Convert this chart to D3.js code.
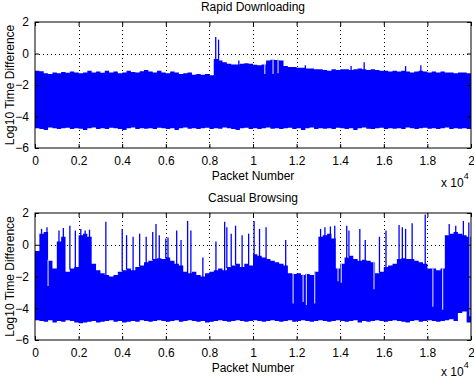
<!DOCTYPE html>
<html>
<head>
<meta charset="utf-8">
<script src="https://cdn.jsdelivr.net/npm/d3@7"></script>
<style>
  body { margin: 0; background: #fff; }
  text { font-family: "Liberation Sans", Arial, sans-serif; fill: #000; }
</style>
</head>
<body>
<svg width="474" height="380"></svg>
<script>
// packets are binned, 200 per bin, 100 bins; values are log10 time difference
var binSize = 200;
var xTicks = [0, 2000, 4000, 6000, 8000, 10000, 12000, 14000, 16000, 18000, 20000];
var yTicks = [-6, -4, -2, 0, 2];

// Rapid Downloading
var rapidHigh = [
  -1.1,-1.12,-1.25,-1.3,-1.2,-1.25,-1.18,-1.22,-1.15,-1.2,
  -1.25,-1.2,-1.1,-1.2,-1.15,-1.22,-1.1,-1.2,-1.15,-1.25,
  -1.2,-1.1,-1.18,-1.2,-1.12,-1.05,-1.15,-1.2,-1.1,-1.2,
  -1.25,-1.15,-1.2,-1.3,-1.25,-1.2,-1.35,-1.3,-1.35,-1.3,
  -1.38,-0.35,-0.45,-0.55,-0.65,-0.7,-0.7,-0.65,-0.62,-0.65,
  -0.72,-0.75,-0.7,-0.45,-0.4,-0.42,-0.45,-0.8,-0.85,-0.85,
  -0.9,-0.9,-0.95,-0.95,-1.0,-1.0,-1.05,-1.1,-1.0,-1.05,
  -1.0,-1.0,-1.05,-1.0,-0.95,-1.0,-1.05,-1.0,-1.05,-1.1,
  -1.1,-1.15,-1.1,-1.15,-1.1,-1.15,-1.2,-1.15,-1.1,-1.15,
  -1.2,-1.15,-1.2,-1.15,-1.2,-1.2,-1.25,-1.2,-1.2,-1.25
];
var rapidLow = [
  -4.75,-4.8,-4.85,-4.7,-4.75,-4.8,-4.75,-4.72,-4.8,-4.75,
  -4.78,-4.85,-4.75,-4.7,-4.8,-4.75,-4.8,-4.72,-4.75,-4.8,
  -4.85,-4.75,-4.7,-4.8,-4.75,-4.78,-4.75,-4.8,-4.72,-4.75,
  -4.8,-4.75,-4.85,-4.75,-4.7,-4.78,-4.75,-4.8,-4.75,-4.72,
  -4.8,-4.75,-4.78,-4.7,-4.75,-4.8,-4.85,-4.75,-4.72,-4.8,
  -4.75,-4.8,-4.75,-4.7,-4.78,-4.75,-4.8,-4.75,-4.72,-4.8,
  -4.75,-4.85,-4.75,-4.7,-4.8,-4.75,-4.78,-4.75,-4.8,-4.72,
  -4.75,-4.8,-4.75,-4.85,-4.75,-4.7,-4.78,-4.8,-4.75,-4.72,
  -4.8,-4.75,-4.78,-4.75,-4.8,-4.7,-4.75,-4.8,-4.75,-4.72,
  -4.78,-4.75,-4.8,-4.75,-4.7,-4.8,-4.75,-4.78,-4.75,-4.8
];
var rapidSpikes = [
  [8290, 1.05], [8420, 0.88], [9350, -0.45], [15100, -0.55],
  [17000, -0.8], [17700, -0.75], [12400, -0.75], [14500, -0.8]
];
var rapidDips = [[10540, -1.3], [10920, -1.3], [11150, -1.25]];

// Casual Browsing
var casualHigh = [
  -0.4,0.7,0.8,-1.0,-1.5,0.2,0.5,-1.7,-1.5,-1.4,
  0.6,0.7,0.5,-1.2,-1.6,-1.8,-1.9,-2.0,-1.9,-1.7,
  -1.6,-1.5,-1.6,-1.4,-1.3,-1.1,-1.0,-0.9,-0.85,-0.9,
  -0.8,-1.0,-1.2,-1.3,-1.7,-1.8,-1.7,-1.9,-2.0,-1.8,
  -1.7,-1.6,-1.5,-1.6,-1.4,-1.3,-1.2,-1.4,-1.2,-1.3,
  -0.6,-0.7,-0.8,-0.9,-1.0,-1.1,-1.2,-1.3,-1.8,-1.85,
  -1.8,-1.9,-1.85,-1.9,-1.7,0.5,0.6,0.7,0.4,-1.5,
  -1.2,-0.8,-0.7,-0.9,-1.0,-0.95,-1.0,-1.1,-1.8,-1.7,
  -1.4,-1.3,-1.2,-0.9,-0.85,-0.9,-0.9,-1.0,-1.1,-1.2,
  -1.5,-1.5,-1.6,-1.5,0.6,0.7,0.8,0.7,0.6,0.5
];
var casualLow = [
  -4.75,-4.8,-4.85,-4.75,-4.9,-4.8,-4.85,-4.75,-4.8,-4.9,
  -4.95,-4.9,-4.85,-4.8,-4.9,-4.85,-4.8,-4.75,-4.85,-4.8,
  -4.9,-4.85,-4.8,-4.85,-4.75,-4.8,-4.85,-4.8,-4.75,-4.8,
  -4.85,-4.8,-4.75,-4.85,-4.8,-4.75,-4.8,-4.85,-4.8,-4.9,
  -4.85,-4.8,-4.75,-4.8,-4.85,-4.8,-4.75,-4.8,-4.85,-4.8,
  -4.75,-4.8,-4.85,-4.8,-4.75,-4.8,-4.85,-4.8,-4.75,-4.85,
  -4.8,-4.75,-4.8,-4.85,-4.8,-4.75,-4.8,-4.85,-4.8,-4.75,
  -4.8,-4.85,-4.8,-4.75,-4.9,-4.8,-4.85,-4.8,-4.75,-4.8,
  -4.85,-4.8,-4.75,-4.8,-4.85,-4.9,-4.8,-4.75,-4.85,-4.8,
  -4.75,-4.8,-4.85,-4.8,-4.75,-4.7,-4.8,-4.3,-4.2,-4.9
];
var casualSpikes = [
  [300, 1.0], [550, 1.1], [1100, 0.9], [1300, 1.05], [1600, 1.2], [1850, 0.9],
  [2100, 1.0], [2300, 0.9], [2500, 0.95], [3250, 1.45], [4000, 1.0], [4200, 0.6],
  [4500, 0.5], [4800, 0.7], [5100, 0.5], [5400, 0.8], [5550, 1.3], [5700, 0.6],
  [6000, 0.4], [6100, 0.45], [6500, 0.9], [6700, 0.3], [7000, 1.5], [7150, 0.9],
  [7700, -0.8], [8300, 0.2], [8700, 1.45], [8800, 1.1], [9000, 0.7], [9200, 1.2],
  [9500, 0.6], [9800, 0.7], [10050, 1.5], [10300, 1.0], [10600, 1.1], [11500, 0.3],
  [13100, 1.0], [13300, 1.1], [13550, 1.15], [13750, 1.2], [14300, 1.2], [14400, 0.9],
  [14900, 1.0], [15150, 0.3], [15800, 0.5], [16100, 0.9], [16700, 1.25], [16850, 1.1],
  [17000, 1.0], [17300, 1.35], [17900, 1.9], [19000, 1.3], [19300, 1.2], [19650, 1.5],
  [19900, 1.4]
];
var casualDips = [
  [600, -2.6], [11840, -3.7], [12300, -3.6], [12450, -3.8], [12830, -3.7],
  [13900, -2.3], [14050, -2.4], [15550, -2.8], [18250, -3.9], [18700, -4.1], [19950, -4.5]
];

var svg = d3.select("svg");
var blue = "#0000ff";

function drawPanel(top, bottom, title, high, low, spikes, dips) {
  var x = d3.scaleLinear().domain([0, 20000]).range([35, 471]);
  var y = d3.scaleLinear().domain([-6, 2]).range([bottom, top]);
  var g = svg.append("g");

  // dotted grid (under the data, like matlab)
  g.selectAll(".gx").data(xTicks.slice(1, -1)).enter().append("line")
    .attr("x1", function(d) { return Math.round(x(d)) + 0.5; })
    .attr("x2", function(d) { return Math.round(x(d)) + 0.5; })
    .attr("y1", top).attr("y2", bottom)
    .attr("stroke", "#000").attr("stroke-width", 1).attr("stroke-dasharray", "1,3");
  g.selectAll(".gy").data(yTicks.slice(1, -1)).enter().append("line")
    .attr("x1", x(0)).attr("x2", x(20000))
    .attr("y1", function(d) { return Math.round(y(d)) + 0.5; })
    .attr("y2", function(d) { return Math.round(y(d)) + 0.5; })
    .attr("stroke", "#000").attr("stroke-width", 1).attr("stroke-dasharray", "1,3");

  // signal band, one step per bin
  var pts = high.map(function(d, i) { return { p: i * binSize, hi: d, lo: low[i] }; });
  var last = pts[pts.length - 1];
  pts.push({ p: 20000, hi: last.hi, lo: last.lo });
  var band = d3.area()
    .x(function(d) { return x(d.p); })
    .y0(function(d) { return y(d.lo); })
    .y1(function(d) { return y(d.hi); })
    .curve(d3.curveStepAfter);
  g.append("path").datum(pts).attr("d", band).attr("fill", blue);

  // thin spikes going up
  g.selectAll(".spike").data(spikes).enter().append("line")
    .attr("x1", function(d) { return x(d[0]); })
    .attr("x2", function(d) { return x(d[0]); })
    .attr("y1", function(d) { return y(d[1]); })
    .attr("y2", function(d) { return y(high[Math.min(99, Math.floor(d[0] / binSize))]) + 1; })
    .attr("stroke", blue).attr("stroke-width", 1.3);

  // narrow gaps cutting down into the band
  g.selectAll(".dip").data(dips).enter().append("line")
    .attr("x1", function(d) { return x(d[0]); })
    .attr("x2", function(d) { return x(d[0]); })
    .attr("y1", function(d) { return y(high[Math.min(99, Math.floor(d[0] / binSize))]) - 1; })
    .attr("y2", function(d) { return y(d[1]); })
    .attr("stroke", "#c8c8ff").attr("stroke-width", 1.2);

  // box
  g.append("rect")
    .attr("x", x(0)).attr("y", top)
    .attr("width", x(20000) - x(0)).attr("height", bottom - top)
    .attr("fill", "none").attr("stroke", "#000").attr("stroke-width", 1);

  // axes with inward ticks
  var xAxis = d3.axisBottom(x).tickValues(xTicks).tickSize(-4).tickPadding(8)
    .tickFormat(function(d) { return d / 10000; });
  var gx = g.append("g").attr("transform", "translate(0," + bottom + ")").call(xAxis);
  var gxt = g.append("g").attr("transform", "translate(0," + top + ")")
    .call(d3.axisTop(x).tickValues(xTicks).tickSize(-4).tickFormat(""));
  var yAxis = d3.axisLeft(y).tickValues(yTicks).tickSize(-4).tickPadding(6);
  var gy = g.append("g").attr("transform", "translate(35,0)").call(yAxis);
  var gyr = g.append("g").attr("transform", "translate(471,0)")
    .call(d3.axisRight(y).tickValues(yTicks).tickSize(-4).tickFormat(""));
  [gx, gxt, gy, gyr].forEach(function(a) {
    a.select(".domain").remove();
    a.selectAll("line").attr("stroke", "#000");
    a.selectAll("text").style("font-size", "12px").attr("fill", "#000")
      .style("font-family", "'Liberation Sans', Arial, sans-serif");
  });

  g.append("text").attr("x", 253).attr("y", top - 11)
    .attr("text-anchor", "middle").style("font-size", "12px").text(title);
  g.append("text").attr("x", 253).attr("y", bottom + 32)
    .attr("text-anchor", "middle").style("font-size", "12px").text("Packet Number");
  var ex = g.append("text").attr("x", 441).attr("y", Math.min(bottom + 39, 376)).style("font-size", "12px");
  ex.append("tspan").text("x 10");
  ex.append("tspan").attr("dy", -8).style("font-size", "9px").text("4");
  g.append("text")
    .attr("transform", "translate(14," + ((top + bottom) / 2) + ") rotate(-90)")
    .attr("text-anchor", "middle").style("font-size", "12px").text("Log10 Time Difference");
}

drawPanel(22, 148, "Rapid Downloading", rapidHigh, rapidLow, rapidSpikes, rapidDips);
drawPanel(213, 340, "Casual Browsing", casualHigh, casualLow, casualSpikes, casualDips);
</script>
</body>
</html>
